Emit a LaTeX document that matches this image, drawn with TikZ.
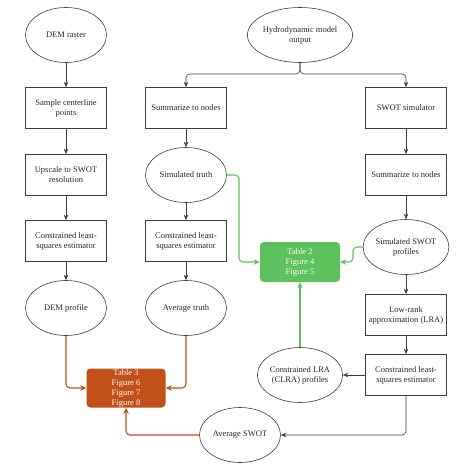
\documentclass[tikz,border=0pt]{standalone}
\usepackage{fontspec}
\setmainfont{Liberation Serif}
\usetikzlibrary{shapes.geometric,arrows.meta}
\definecolor{lineg}{RGB}{60,60,60}
\definecolor{greenbox}{RGB}{92,192,92}
\definecolor{orangebox}{RGB}{192,80,24}
\begin{document}
\begin{tikzpicture}[x=1pt,y=-1pt,
  every node/.style={font=\fontsize{8.5}{10}\selectfont, align=center, text=black!85},
  oval/.style={ellipse, draw=lineg, line width=0.6pt, minimum width=81pt, minimum height=55pt, inner sep=0pt},
  boxn/.style={rectangle, draw=lineg, line width=0.6pt, minimum width=81pt, minimum height=41pt, inner sep=1pt},
  resg/.style={rectangle, rounded corners=4pt, fill=greenbox, minimum width=80pt, minimum height=40pt, text=white, inner sep=0pt},
  reso/.style={rectangle, rounded corners=4pt, fill=orangebox, minimum width=79pt, minimum height=39pt, text=white, inner sep=0pt},
  arr/.style={draw=lineg, line width=0.6pt, -{Stealth[length=5.5pt,width=4.5pt]}, rounded corners=4pt},
  garr/.style={draw=greenbox, line width=1.1pt, -{Stealth[length=6pt,width=5.5pt]}, rounded corners=4pt},
  oarr/.style={draw=orangebox, line width=1.1pt, -{Stealth[length=6pt,width=5.5pt]}, rounded corners=4pt}
]
\useasboundingbox (0,0) rectangle (474,474);
% column 1
\node[oval] (dem) at (66,35) {DEM raster};
\node[boxn] (sample) at (66,108) {Sample centerline\\points};
\node[boxn] (upscale) at (66,175) {Upscale to SWOT\\resolution};
\node[boxn] (cls1) at (66,241) {Constrained least-\\squares estimator};
\node[oval] (demprof) at (66,308) {DEM profile};
% column 2
\node[boxn] (sum1) at (186,108) {Summarize to nodes};
\node[oval] (simtruth) at (186,175) {Simulated truth};
\node[boxn] (cls2) at (186,241) {Constrained least-\\squares estimator};
\node[oval] (avgtruth) at (186,308) {Average truth};
% column 3
\node[oval] (hydro) at (300,35) {Hydrodynamic model\\output};
\node[boxn] (swotsim) at (406,108) {SWOT simulator};
\node[boxn] (sum2) at (406,175) {Summarize to nodes};
\node[oval] (simswot) at (406,247) {Simulated SWOT\\profiles};
\node[boxn] (lra) at (406,315) {Low-rank\\approximation (LRA)};
\node[boxn] (cls3) at (406,375) {Constrained least-\\squares estimator};
\node[oval] (clra) at (300,375) {Constrained LRA\\(CLRA) profiles};
\node[oval] (avgswot) at (240,435) {Average SWOT};
% results
\node[resg] (green) at (300,262) {Table 2\\Figure 4\\Figure 5};
\node[reso] (orange) at (126,388) {Table 3\\Figure 6\\Figure 7\\Figure 8};
% black connectors
\draw[arr] (dem) -- (sample);
\draw[arr] (sample) -- (upscale);
\draw[arr] (upscale) -- (cls1);
\draw[arr] (cls1) -- (demprof);
\draw[arr] (sum1) -- (simtruth);
\draw[arr] (simtruth) -- (cls2);
\draw[arr] (cls2) -- (avgtruth);
\draw[arr] (swotsim) -- (sum2);
\draw[arr] (sum2) -- (simswot);
\draw[arr] (simswot) -- (lra);
\draw[arr] (lra) -- (cls3);
\draw[arr] (cls3) -- (clra);
\draw[arr] (cls3.south) |- (avgswot.east);
\coordinate (fork) at (300,74);
\draw[arr] (hydro.south) -- (fork) -| (sum1.north);
\draw[arr] (hydro.south) -- (fork) -| (swotsim.north);
% green connectors
\coordinate (gturn) at (239,175);
\draw[garr] (simtruth.east) -- (gturn) |- (green.west);
\coordinate (gturn2) at (353,247);
\draw[garr] (simswot.west) -- (gturn2) |- (green.east);
\draw[garr] (clra.north) -- (green.south);
% orange connectors
\draw[oarr] (demprof.south) |- (orange.west);
\draw[oarr] (avgtruth.south) |- (orange.east);
\draw[oarr] (avgswot.west) -| (orange.south);
\end{tikzpicture}
\end{document}
